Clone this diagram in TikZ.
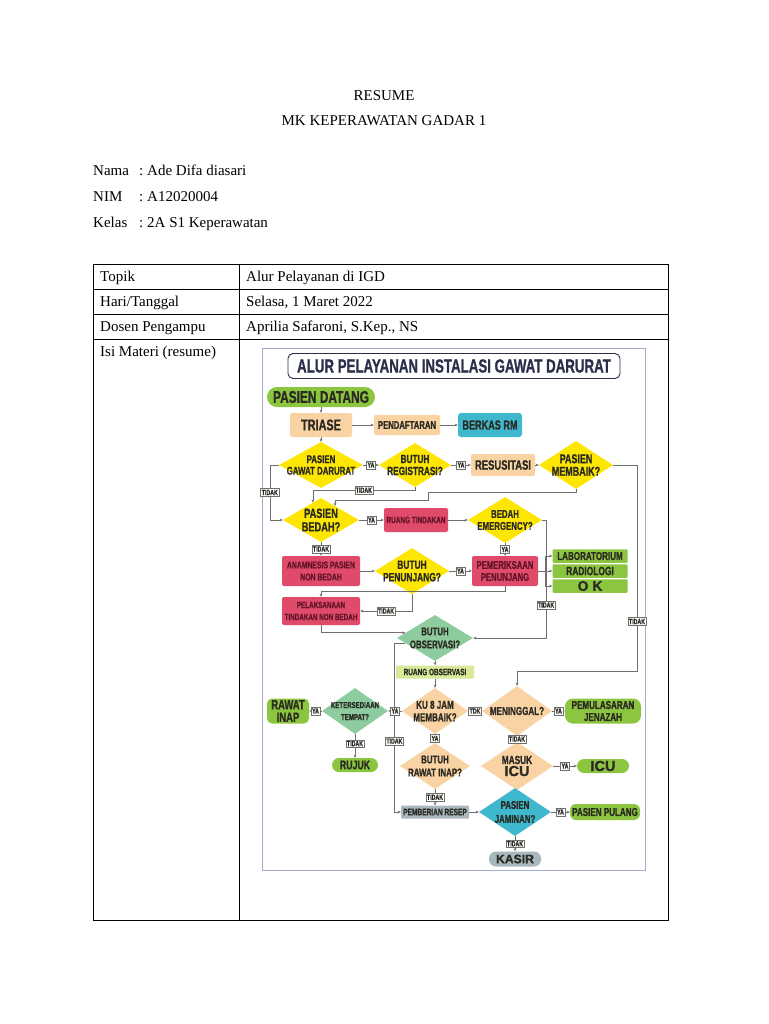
\documentclass[tikz,border=0pt]{standalone}
\usepackage{fontspec}
\setmainfont{Liberation Serif}
\newfontfamily\condfont[FakeStretch=0.70, FakeBold=0.9]{Liberation Sans}
\newfontfamily\widefont[FakeBold=0.9]{Liberation Sans}
\usetikzlibrary{arrows.meta, positioning, shapes.geometric}

\definecolor{ylw}{HTML}{FDE602}
\definecolor{pch}{HTML}{F9D3A4}
\definecolor{tel}{HTML}{3FB8CE}
\definecolor{pnk}{HTML}{E04B6C}
\definecolor{grn}{HTML}{8CC53F}
\definecolor{obsg}{HTML}{8ECC9F}
\definecolor{robs}{HTML}{D8EA9A}
\definecolor{gry}{HTML}{A9B8BF}
\definecolor{wire}{HTML}{6F6F6F}
\definecolor{ink}{HTML}{2A2A22}
\definecolor{mar}{HTML}{641427}
\definecolor{navy}{HTML}{2C2F4A}
\definecolor{frm}{HTML}{A3ADCB}

\newcommand{\cf}[2]{\condfont\bfseries\fontsize{#1}{#2}\selectfont}
\newcommand{\wf}[2]{\widefont\bfseries\fontsize{#1}{#2}\selectfont}

\begin{document}
\begin{tikzpicture}[x=1pt, y=-1pt,
  doc/.style={font=\fontsize{15}{18}\selectfont, inner sep=0pt, anchor=base west},
  box/.style={rectangle, rounded corners=2pt, inner sep=0pt, align=center, text=ink},
  dmd/.style={diamond, inner sep=0pt},
  dtx/.style={align=center, text=ink, inner sep=0pt},
  tag/.style={rectangle, draw=wire, fill=white, line width=0.4pt, inner xsep=1.2pt, inner ysep=1.3pt, font=\cf{7.5}{7.5}, text=ink},
  arr/.style={draw=wire, line width=0.6pt, -{Stealth[length=3.2pt, width=2.8pt]}}
]
\useasboundingbox (0,0) rectangle (768,1024);
\fill[white] (0,0) rectangle (768,1024);

% kepala halaman
\node[doc, anchor=base] (hres) at (384,101) {RESUME};
\node[doc, anchor=base] (hmk) at (384,126) {MK KEPERAWATAN GADAR 1};
\node[doc] (nm) at (93,176) {Nama};
\node[doc] (nmc) at (139,176) {:};
\node[doc] (nmv) at (147,176) {Ade Difa diasari};
\node[doc] (ni) at (93,202) {NIM};
\node[doc] (nic) at (139,202) {:};
\node[doc] (niv) at (147,202) {A12020004};
\node[doc] (kl) at (93,227) {Kelas};
\node[doc] (klc) at (139,227) {:};
\node[doc] (klv) at (147,227) {2A S1 Keperawatan};

% tabel
\draw[line width=0.7pt] (93,264) rectangle (668,920);
\draw[line width=0.7pt] (239,264) -- (239,920);
\foreach \yy in {289,314,339}
  \draw[line width=0.7pt] (93,\yy) -- (668,\yy);
\node[doc] (k1) at (100,281) {Topik};
\node[doc] (v1) at (246,281) {Alur Pelayanan di IGD};
\node[doc] (k2) at (100,306) {Hari/Tanggal};
\node[doc] (v2) at (246,306) {Selasa, 1 Maret 2022};
\node[doc] (k3) at (100,331) {Dosen Pengampu};
\node[doc] (v3) at (246,331) {Aprilia Safaroni, S.Kep., NS};
\node[doc] (k4) at (100,356) {Isi Materi (resume)};

% bagan alur
\draw[frm, line width=0.8pt] (262,348) rectangle (645,870);
\node[box, draw=navy, line width=0.9pt, fill=white, rounded corners=5pt, minimum width=332, minimum height=25, font=\cf{19}{19}, text=navy] (ttl) at (454,366) {ALUR PELAYANAN INSTALASI GAWAT DARURAT};

\node[box, fill=grn, rounded corners=10pt, minimum width=108, minimum height=20, font=\cf{17}{17}] (pd) at (321,397) {PASIEN DATANG};
\node[box, fill=pch, minimum width=62, minimum height=24, font=\cf{15.5}{15}] (tri) at (321,425) {TRIASE};
\node[box, fill=pch, minimum width=66, minimum height=20, font=\cf{11}{11}] (pdf) at (407,425) {PENDAFTARAN};
\node[box, fill=tel, rounded corners=3pt, minimum width=64, minimum height=24, font=\cf{13}{13}] (brm) at (490,425) {BERKAS RM};

\node[dmd, fill=ylw, minimum width=84, minimum height=46, label={[dtx, font=\cf{11.2}{11.5}]center:PASIEN\\GAWAT DARURAT}] (gd) at (321,465) {};
\node[dmd, fill=ylw, minimum width=72, minimum height=44, label={[dtx, font=\cf{11.8}{12}]center:BUTUH\\REGISTRASI?}] (reg) at (415,465) {};
\node[box, fill=pch, minimum width=64, minimum height=22, font=\cf{13.5}{13}] (res) at (503,465) {RESUSITASI};
\node[dmd, fill=ylw, minimum width=74, minimum height=48, label={[dtx, font=\cf{12.8}{12.5}]center:PASIEN\\MEMBAIK?}] (mbk) at (576,465) {};

\node[dmd, fill=ylw, minimum width=76, minimum height=44, label={[dtx, font=\cf{13.2}{13.5}]center:PASIEN\\BEDAH?}] (bedah) at (321,520) {};
\node[box, fill=pnk, minimum width=64, minimum height=24, font=\cf{9.2}{9}, text=mar] (rt) at (416,520) {RUANG TINDAKAN};
\node[dmd, fill=ylw, minimum width=74, minimum height=46, label={[dtx, font=\cf{11.2}{12}]center:BEDAH\\EMERGENCY?}] (bem) at (505,520) {};

\node[box, fill=pnk, minimum width=78, minimum height=30, font=\cf{9.8}{12}, text=mar] (ana) at (321,571) {ANAMNESIS PASIEN\\NON BEDAH};
\node[dmd, fill=ylw, minimum width=74, minimum height=46, label={[dtx, font=\cf{12}{12.5}]center:BUTUH\\PENUNJANG?}] (pnj) at (412,571) {};
\node[box, fill=pnk, minimum width=66, minimum height=30, font=\cf{11}{12}, text=mar] (pem) at (505,571) {PEMERIKSAAN\\PENUNJANG};
\node[box, fill=grn, rounded corners=1pt, minimum width=75, minimum height=13.5, font=\cf{11.5}{11}] (lab) at (590,556) {LABORATORIUM};
\node[box, fill=grn, rounded corners=1pt, minimum width=75, minimum height=13.5, font=\cf{12}{11.5}] (rad) at (590,571) {RADIOLOGI};
\node[box, fill=grn, rounded corners=1pt, minimum width=75, minimum height=13.5, font=\wf{14}{14}] (ok) at (590,586) {O K};

\node[box, fill=pnk, minimum width=78, minimum height=28, font=\cf{9}{12}, text=mar] (pel) at (321,611) {PELAKSANAAN\\TINDAKAN NON BEDAH};
\node[dmd, fill=obsg, minimum width=76, minimum height=46, label={[dtx, font=\cf{11.2}{13}]center:BUTUH\\OBSERVASI?}] (obs) at (435,638) {};
\node[box, fill=robs, rounded corners=1pt, minimum width=78, minimum height=13, font=\cf{9.2}{9}] (rob) at (435,672) {RUANG OBSERVASI};

\node[box, fill=grn, rounded corners=5pt, minimum width=42, minimum height=25, font=\cf{13.5}{12.5}] (rwi) at (288,711) {RAWAT\\INAP};
\node[dmd, fill=obsg, minimum width=66, minimum height=46, label={[dtx, font=\cf{8.7}{12}]center:KETERSEDIAAN\\TEMPAT?}] (kts) at (355,711) {};
\node[dmd, fill=pch, minimum width=66, minimum height=46, label={[dtx, font=\cf{11.5}{12.5}]center:KU 8 JAM\\MEMBAIK?}] (ku) at (435,711) {};
\node[dmd, fill=pch, minimum width=70, minimum height=50, label={[dtx, font=\cf{11.5}{11}]center:MENINGGAL?}] (mng) at (517,711) {};
\node[box, fill=grn, rounded corners=8pt, minimum width=76, minimum height=25, font=\cf{11.5}{12}] (pmj) at (603,711) {PEMULASARAN\\JENAZAH};

\node[box, fill=grn, rounded corners=7pt, minimum width=46, minimum height=14, font=\cf{12.5}{12}] (rjk) at (355,765) {RUJUK};
\node[dmd, fill=pch, minimum width=70, minimum height=46, label={[dtx, font=\cf{11.3}{13}]center:BUTUH\\RAWAT INAP?}] (bri) at (435,766) {};
\node[dmd, fill=pch, minimum width=72, minimum height=48, label={[dtx]center:{\cf{11.8}{12}MASUK}\\{\wf{14.5}{14}ICU}}] (icq) at (517,766) {};
\node[box, fill=grn, rounded corners=7pt, minimum width=52, minimum height=14, font=\wf{14.5}{14}] (icu) at (603,766) {ICU};

\node[box, fill=gry, rounded corners=1pt, minimum width=68, minimum height=13, font=\cf{9.4}{9}] (psr) at (435,812) {PEMBERIAN RESEP};
\node[dmd, fill=tel, minimum width=72, minimum height=48, label={[dtx, font=\cf{11.2}{14}]center:PASIEN\\JAMINAN?}] (jmn) at (515,812) {};
\node[box, fill=grn, rounded corners=6pt, minimum width=70, minimum height=16, font=\cf{11.5}{11}] (ppl) at (605,812) {PASIEN PULANG};
\node[box, fill=gry, rounded corners=7pt, minimum width=52, minimum height=15, font=\wf{12.2}{12}] (ksr) at (515,859) {KASIR};

% panah
\draw[arr] (pd) -- (tri);
\draw[arr] (tri) -- (pdf);
\draw[arr] (pdf) -- (brm);
\draw[arr] (tri) -- (gd);
\draw[arr] (gd) -- node[tag] (t1) {YA} (reg);
\draw[arr] (reg) -- node[tag] (t2) {YA} (res);
\draw[arr] (res) -- (mbk);
\draw[arr] (gd.west) -- ++(-9,0) |- node[tag, pos=0.25] (t3) {TIDAK} (bedah.west);
\draw[arr] (reg.south) -- ++(0,3) -| node[tag, pos=0.25] (t4) {TIDAK} (bedah.115);
\draw[arr] (mbk.south) |- (428,492) -- (428,500) -| (bedah.45);
\draw[arr] (mbk.east) -| node[tag, pos=0.88] (t5) {TIDAK} (637,671) -| (mng.north);
\draw[arr] (bedah) -- node[tag] (t6) {YA} (rt);
\draw[arr] (rt) -- (bem);
\draw[arr] (bem.east) -- ++(4,0) |- node[tag, pos=0.36] (t7) {TIDAK} (obs.east);
\draw[arr] (bem) -- node[tag] (t8) {YA} (pem);
\draw[arr] (bedah) -- node[tag] (t9) {TIDAK} (ana);
\draw[arr] (ana) -- (pnj);
\draw[arr] (pnj) -- node[tag] (t10) {YA} (pem);
\foreach \lb in {lab, rad, ok}
  \draw[arr] (pem.east) -- ++(7,0) |- (\lb.west);
\draw[arr] (pem.south) -- ++(0,5) -| (pel.north);
\draw[arr] (pnj.south) |- node[tag, pos=0.75] (t11) {TIDAK} (pel.east);
\draw[arr] (pel.south) |- (obs.170);
\draw[arr] (obs) -- (rob);
\draw[arr] (rob) -- (ku);
\draw[arr] (obs.190) -- ++(-11,0) |- node[tag, pos=0.29] (t12) {TIDAK} (psr.west);
\draw[arr] (ku) -- node[tag] (t13) {YA} (kts);
\draw[arr] (kts) -- node[tag] (t14) {YA} (rwi);
\draw[arr] (kts) -- node[tag, pos=0.4] (t15) {TIDAK} (rjk);
\draw[arr] (ku) -- node[tag] (t16) {YA} (bri);
\draw[arr] (bri) -- node[tag] (t17) {TIDAK} (psr);
\draw[arr] (psr) -- (jmn);
\draw[arr] (jmn) -- node[tag] (t18) {YA} (ppl);
\draw[arr] (jmn) -- node[tag] (t19) {TIDAK} (ksr);
\draw[arr] (mng) -- node[tag] (t20) {TDK} (ku);
\draw[arr] (mng) -- node[tag] (t21) {YA} (pmj);
\draw[arr] (mng) -- node[tag] (t22) {TIDAK} (icq);
\draw[arr] (icq) -- node[tag] (t23) {YA} (icu);
\end{tikzpicture}
\end{document}
